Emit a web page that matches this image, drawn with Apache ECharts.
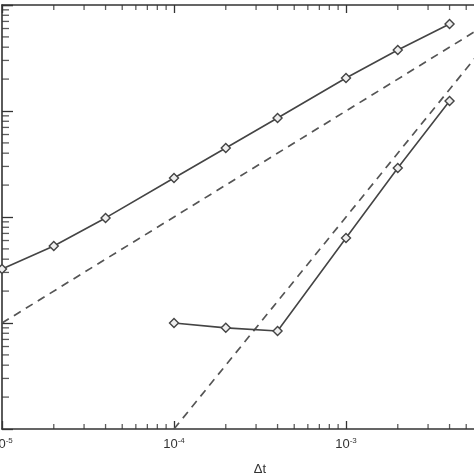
<!DOCTYPE html>
<html>
<head>
<meta charset="utf-8">
<script src="https://cdn.jsdelivr.net/npm/echarts@6/dist/echarts.min.js"></script>
<style>
  html, body { margin: 0; padding: 0; background: #fff; }
  #chart { width: 474px; height: 474px; }
</style>
</head>
<body>
<div id="chart"></div>
<script>
// ---------------- data ----------------
const dtUpper = [1e-5, 2e-5, 4e-5, 1e-4, 2e-4, 4e-4, 1e-3, 2e-3, 4e-3]
const errUpper = [3.23e-5, 5.32e-5, 9.8e-5, 2.33e-4, 4.48e-4, 8.6e-4, 2.05e-3, 3.76e-3, 6.62e-3]

const dtLower = [1e-4, 2e-4, 4e-4, 1e-3, 2e-3, 4e-3]
const errLower = [1.0e-5, 9.0e-6, 8.4e-6, 6.34e-5, 2.9e-4, 1.24e-3]

// reference slopes (order 1 and order 2)
const refOrder1X = [1e-5, 1e-2]
const refOrder1Y = [1e-5, 1e-2]
const refOrder2X = [1e-4, 1e-2]
const refOrder2Y = [1e-6, 1e-2]

// axes
const xMin = 1e-5
const xMax = 1e-2
const yMin = 1e-6
const yMax = 1e-2
const xMinorTicks = [
  2e-5, 3e-5, 4e-5, 5e-5, 6e-5, 7e-5, 8e-5, 9e-5,
  2e-4, 3e-4, 4e-4, 5e-4, 6e-4, 7e-4, 8e-4, 9e-4,
  2e-3, 3e-3, 4e-3, 5e-3, 6e-3, 7e-3, 8e-3, 9e-3
]
const yMinorTicks = [
  2e-6, 3e-6, 4e-6, 5e-6, 6e-6, 7e-6, 8e-6, 9e-6,
  2e-5, 3e-5, 4e-5, 5e-5, 6e-5, 7e-5, 8e-5, 9e-5,
  2e-4, 3e-4, 4e-4, 5e-4, 6e-4, 7e-4, 8e-4, 9e-4,
  2e-3, 3e-3, 4e-3, 5e-3, 6e-3, 7e-3, 8e-3, 9e-3
]

const lineColor = '#444'
const axisColor = '#333'

function pairs (xs, ys) {
  return xs.map((x, i) => [x, ys[i]])
}

function expLabel (v) {
  const e = Math.round(Math.log10(v))
  return '{b|10}{s|' + e + '}'
}

const options = {
  animation: false,
  textStyle: { fontFamily: 'Liberation Sans, Arial, sans-serif' },
  grid: {
    left: 2,
    right: -44,
    top: 5,
    bottom: 45,
    containLabel: false,
    outerBoundsMode: 'none'
  },
  xAxis: [
    {
      type: 'log',
      logBase: 10,
      min: xMin,
      max: xMax,
      position: 'bottom',
      name: 'Δt',
      nameLocation: 'middle',
      nameGap: 34,
      nameTextStyle: { color: '#333', fontSize: 13 },
      axisLine: { show: true, lineStyle: { color: axisColor, width: 1.6 } },
      axisTick: { show: true, inside: true, length: 8, lineStyle: { color: axisColor, width: 1.3 } },
      axisLabel: {
        show: true,
        margin: 8,
        formatter: expLabel,
        rich: {
          b: { fontSize: 13, color: '#333' },
          s: { fontSize: 8, color: '#333', verticalAlign: 'top', padding: [0, 0, 7, 0] }
        }
      },
      splitLine: { show: false }
    },
    {
      type: 'log',
      logBase: 10,
      min: xMin,
      max: xMax,
      position: 'top',
      axisLine: { show: true, lineStyle: { color: axisColor, width: 1.6 } },
      axisTick: { show: true, inside: true, length: 8, lineStyle: { color: axisColor, width: 1.3 } },
      axisLabel: { show: false },
      splitLine: { show: false }
    }
  ],
  yAxis: [
    {
      type: 'log',
      logBase: 10,
      min: yMin,
      max: yMax,
      position: 'left',
      axisLine: { show: true, lineStyle: { color: axisColor, width: 1.6 } },
      axisTick: { show: true, inside: true, length: 11, lineStyle: { color: axisColor, width: 1.3 } },
      axisLabel: { show: false },
      splitLine: { show: false }
    },
    {
      type: 'log',
      logBase: 10,
      min: yMin,
      max: yMax,
      position: 'right',
      axisLine: { show: true, lineStyle: { color: axisColor, width: 1.6 } },
      axisTick: { show: true, inside: true, length: 11 },
      axisLabel: { show: false },
      splitLine: { show: false }
    }
  ],
  series: [
    // ---- minor ticks (log spaced) ----
    {
      type: 'scatter',
      silent: true,
      clip: false,
      symbol: 'rect',
      symbolSize: [1.3, 5],
      symbolOffset: [0, -2.5],
      itemStyle: { color: axisColor },
      data: xMinorTicks.map(v => [v, yMin]),
      z: 1
    },
    {
      type: 'scatter',
      silent: true,
      clip: false,
      symbol: 'rect',
      symbolSize: [1.3, 5],
      symbolOffset: [0, 2.5],
      itemStyle: { color: axisColor },
      data: xMinorTicks.map(v => [v, yMax]),
      z: 1
    },
    {
      type: 'scatter',
      silent: true,
      clip: false,
      symbol: 'rect',
      symbolSize: [7, 1.3],
      symbolOffset: [3.5, 0],
      itemStyle: { color: axisColor },
      data: yMinorTicks.map(v => [xMin, v]),
      z: 1
    },
    // ---- reference slopes ----
    {
      type: 'line',
      symbol: 'none',
      clip: true,
      lineStyle: { color: '#555', width: 1.7, type: [8, 6] },
      data: pairs(refOrder1X, refOrder1Y),
      z: 2
    },
    {
      type: 'line',
      symbol: 'none',
      clip: true,
      lineStyle: { color: '#555', width: 1.7, type: [8, 6] },
      data: pairs(refOrder2X, refOrder2Y),
      z: 2
    },
    // ---- error curves ----
    {
      type: 'line',
      symbol: 'diamond',
      symbolSize: 9,
      clip: false,
      lineStyle: { color: lineColor, width: 1.6 },
      itemStyle: { color: '#eee', borderColor: lineColor, borderWidth: 1.4 },
      data: pairs(dtUpper, errUpper),
      z: 3
    },
    {
      type: 'line',
      symbol: 'diamond',
      symbolSize: 9,
      clip: false,
      lineStyle: { color: lineColor, width: 1.6 },
      itemStyle: { color: '#eee', borderColor: lineColor, borderWidth: 1.4 },
      data: pairs(dtLower, errLower),
      z: 3
    }
  ]
}

const chart = echarts.init(document.getElementById('chart'))
chart.setOption(options)
</script>
</body>
</html>
